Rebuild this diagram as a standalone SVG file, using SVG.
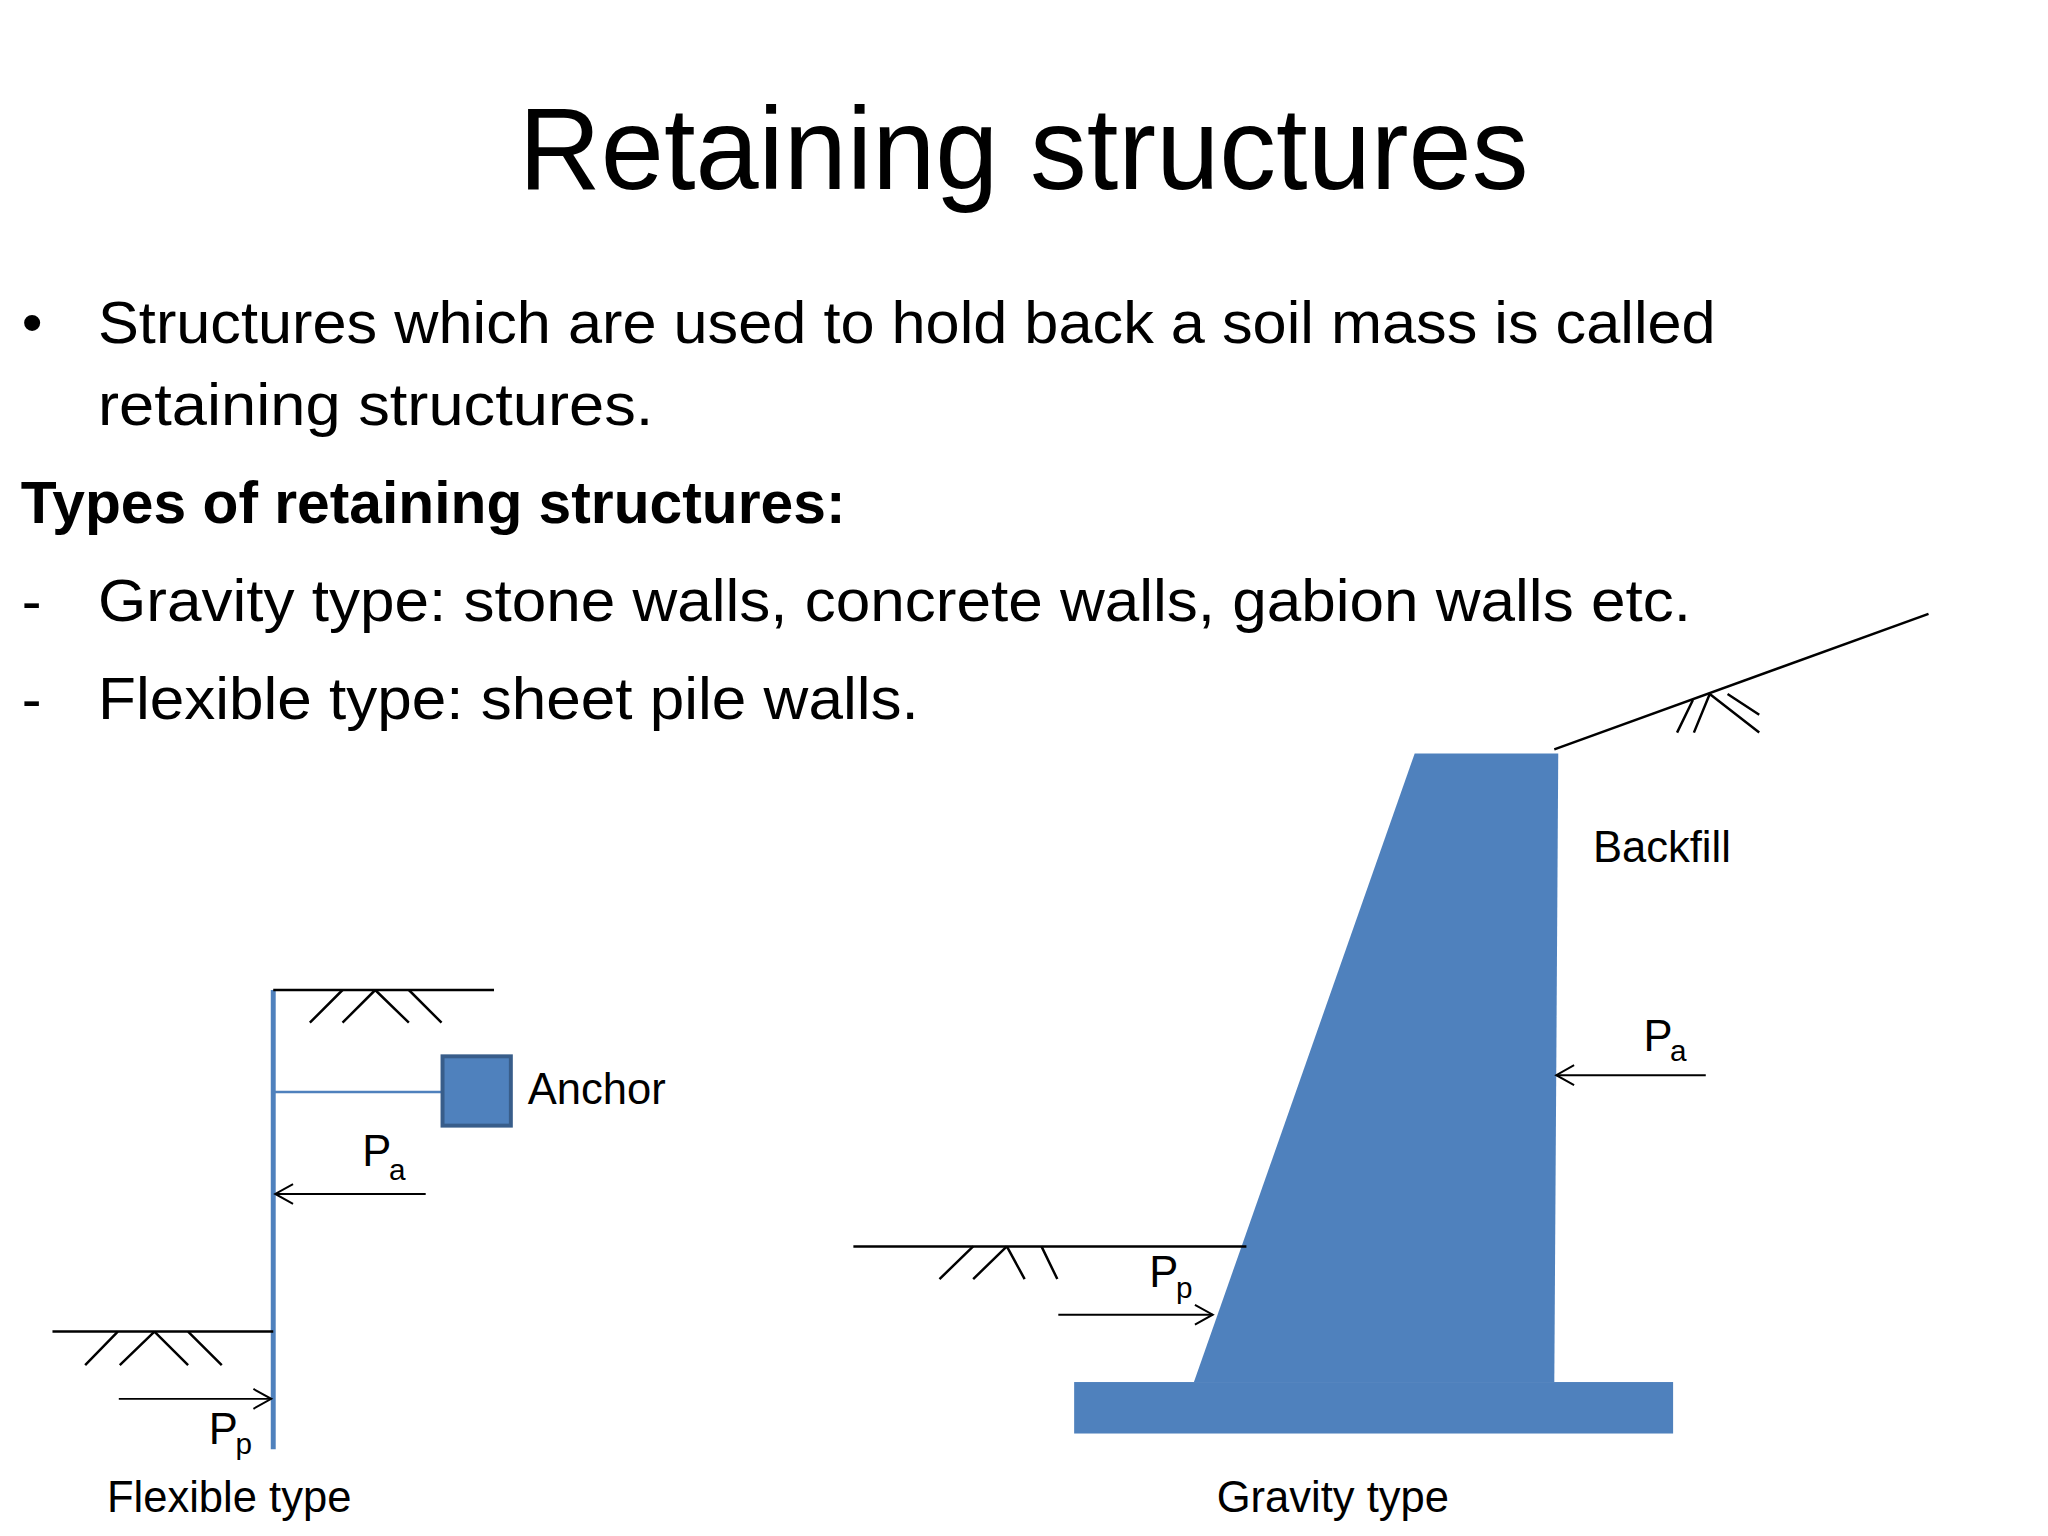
<svg xmlns="http://www.w3.org/2000/svg" width="2048" height="1536" viewBox="0 0 2048 1536">
<style>
text{font-family:"Liberation Sans","Noto Sans",sans-serif;fill:#000}
.g{stroke:#000;stroke-width:2.5;fill:none}
.ar{stroke:#000;stroke-width:2;fill:none;marker-end:url(#ah)}
.blue{fill:#4f81bd}
.lbl{font-size:44px}
.sub{font-size:30px}
</style>
<defs>
<marker id="ah" markerWidth="24" markerHeight="24" refX="20" refY="12" orient="auto" markerUnits="userSpaceOnUse">
<path d="M2,2 L20,12 L2,22" fill="none" stroke="#000" stroke-width="2"/>
</marker>
</defs>
<rect width="2048" height="1536" fill="#fff"/>
<g transform="scale(0.99)">
<text x="524" y="191" font-size="118" textLength="1020" lengthAdjust="spacingAndGlyphs">Retaining structures</text>
<text x="22" y="346" font-size="60">•</text>
<text x="99" y="346" font-size="60" textLength="1634" lengthAdjust="spacingAndGlyphs">Structures which are used to hold back a soil mass is called</text>
<text x="99" y="429" font-size="60" textLength="561" lengthAdjust="spacingAndGlyphs">retaining structures.</text>
<text x="21" y="528" font-size="60" font-weight="bold" textLength="833" lengthAdjust="spacingAndGlyphs">Types of retaining structures:</text>
<text x="22" y="627" font-size="60">-</text>
<text x="99" y="627" font-size="60" textLength="1609" lengthAdjust="spacingAndGlyphs">Gravity type: stone walls, concrete walls, gabion walls etc.</text>
<text x="22" y="726" font-size="60">-</text>
<text x="99" y="726" font-size="60" textLength="829" lengthAdjust="spacingAndGlyphs">Flexible type: sheet pile walls.</text>

<g id="flexible">
<line x1="276" y1="1000" x2="276" y2="1464" stroke="#4f81bd" stroke-width="5"/>
<line class="g" x1="276" y1="1000" x2="499" y2="1000"/>
<path class="g" d="M346,1000 L313,1033 M379,1000 L346,1033 M379,1000 L413,1033 M413,1000 L446,1033"/>
<line x1="276" y1="1103" x2="446" y2="1103" stroke="#4f81bd" stroke-width="2.5"/>
<rect id="anchor" x="447" y="1067" width="69" height="70" class="blue" stroke="#385d8a" stroke-width="4"/>
<text x="533" y="1115" class="lbl">Anchor</text>
<line class="g" x1="53" y1="1345" x2="276" y2="1345"/>
<path class="g" d="M119,1345 L86,1379 M156,1345 L121,1379 M156,1345 L190,1379 M190,1345 L224,1379"/>
<text x="366" y="1178" class="lbl">P</text><text x="393" y="1192" class="sub">a</text>
<text x="211" y="1459" class="lbl">P</text><text x="238" y="1469" class="sub">p</text>
<text x="108" y="1527" class="lbl">Flexible type</text>
</g>

<g id="gravity">
<polygon points="1429,761 1574,761 1570,1396 1206,1396" class="blue"/>
<rect x="1085" y="1396" width="605" height="52" class="blue"/>
<line class="g" x1="1570" y1="757" x2="1948" y2="620"/>
<path class="g" d="M1710,707 L1694,740 M1727,701 L1711,740 M1727,701 L1777,740 M1745,701 L1777,722"/>
<text x="1609" y="871" class="lbl">Backfill</text>
<text x="1660" y="1062" class="lbl">P</text><text x="1687" y="1072" class="sub">a</text>
<line class="g" x1="862" y1="1259" x2="1259" y2="1259"/>
<path class="g" d="M983,1259 L949,1292 M1017,1259 L983,1292 M1017,1259 L1035,1292 M1052,1259 L1068,1292"/>
<text x="1161" y="1300" class="lbl">P</text><text x="1188" y="1311" class="sub">p</text>
<text x="1229" y="1527" class="lbl">Gravity type</text>
</g>

<g id="connectors">
<line class="ar" x1="430" y1="1206" x2="278" y2="1206"/>
<line class="ar" x1="120" y1="1413" x2="274" y2="1413"/>
<line class="ar" x1="1723" y1="1086" x2="1572" y2="1086"/>
<line class="ar" x1="1069" y1="1328" x2="1225" y2="1328"/>
</g>
</g>
</svg>
